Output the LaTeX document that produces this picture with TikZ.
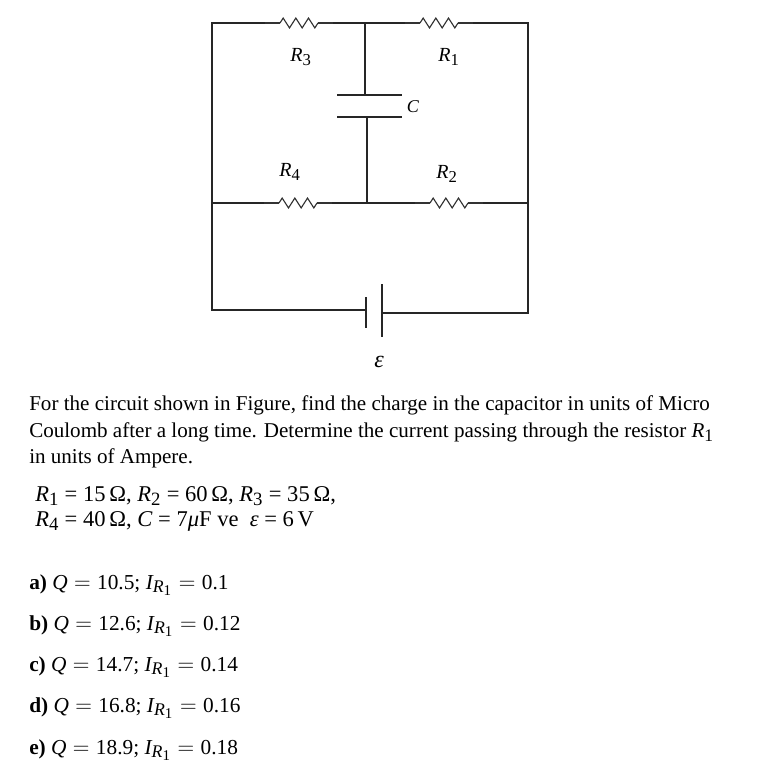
\documentclass[tikz,border=0pt]{standalone}
\usepackage{amsmath,amssymb}
\usepackage{fontspec}
\setmainfont{Liberation Serif}
\usepackage[italic]{mathastext}
\usepackage{tikz}
\usetikzlibrary{decorations.pathmorphing}

\newcommand{\rsym}[1]{$R_{\text{#1}}$}
\newcommand{\valeq}[2]{$#1=\text{#2}$}

\begin{document}
\begin{tikzpicture}[
    x=0.75pt, y=-0.75pt,
    wire/.style={line width=1.45pt, draw=black!85},
    plate/.style={line width=1.45pt, draw=black!85},
    resistor/.style={line width=0.85pt, draw=black!80, decoration={zigzag, segment length=9.5pt, amplitude=3.7pt}},
    label/.style={font=\fontsize{15}{18}\selectfont, inner sep=0pt},
    para/.style={font=\fontsize{15.8}{19}\selectfont, anchor=base west, inner sep=0pt},
    vals/.style={font=\fontsize{16.9}{20}\selectfont, anchor=base west, inner sep=0pt},
    answer/.style={font=\fontsize{16}{19}\selectfont, anchor=base west, inner sep=0pt}
]
\useasboundingbox (0,0) rectangle (757,767);
\fill[white] (0,0) rectangle (757,767);

% Corners and junctions
\coordinate (tl) at (212,23);
\coordinate (tr) at (528,23);
\coordinate (tj) at (365,23);
\coordinate (ml) at (212,203);
\coordinate (mr) at (528,203);
\coordinate (mj) at (367,203);
\coordinate (bl) at (212,310);
\coordinate (br) at (528,313);

% Capacitor
\coordinate (capa) at (365,95);
\coordinate (capb) at (367,117);
\coordinate (capal) at (337,95);
\coordinate (capar) at (402,95);
\coordinate (capbl) at (337,117);
\coordinate (capbr) at (402,117);

% Battery
\coordinate (bata) at (366,310);
\coordinate (batb) at (382,313);
\coordinate (bataup) at (366,297);
\coordinate (batadn) at (366,328);
\coordinate (batbup) at (382,284);
\coordinate (batbdn) at (382,337);

% Resistor ends
\coordinate (r3a) at (280,23);  \coordinate (r3b) at (318,23);
\coordinate (r1a) at (420,23);  \coordinate (r1b) at (458,23);
\coordinate (r4a) at (279,203); \coordinate (r4b) at (317,203);
\coordinate (r2a) at (430,203); \coordinate (r2b) at (468,203);

% Wires
\draw[wire] (r3a) ++(-15,0) -- (tl) -- (ml) -- (bl) -- (bata);
\draw[wire] (r3b) ++(15,0) -- (tj) -- ++(45,0);
\draw[wire] (r1b) ++(15,0) -- (tr) -- (mr) -- (br) -- (batb);
\draw[wire] (ml) -- ++(53,0);
\draw[wire] (r4b) ++(3,0) -- (mj) -- ++(49,0);
\draw[wire] (r2b) ++(10,0) -- (mr);
\draw[wire] (tj) -- (capa);
\draw[wire] (capb) -- (mj);

% Plates
\draw[plate] (capal) -- (capar);
\draw[plate] (capbl) -- (capbr);
\draw[plate] (bataup) -- (batadn);
\draw[plate] (batbup) -- (batbdn);

% Resistors
\foreach \ra/\rb in {r3a/r3b, r1a/r1b, r4a/r4b, r2a/r2b} {
    \draw[resistor] (\ra) ++(-15,0) -- (\ra);
    \draw[resistor] (\rb) -- ++(15,0);
    \draw[resistor, decorate] (\ra) -- (\rb);
}

% Circuit labels
\node[label] (lr3) at (301,57) {\rsym{3}};
\node[label] (lr1) at (449,57) {\rsym{1}};
\node[label] (lr4) at (290,172) {\rsym{4}};
\node[label] (lr2) at (447,174) {\rsym{2}};
\node[label] (lc) at (413,107) {\fontsize{13.5}{16}\selectfont\textit{C}};
\node[label] (le) at (379,362) {\fontsize{18}{20}\selectfont\textit{ε}};

% Question
\node[para] (line1) at (29,410) {For the circuit shown in Figure, find the charge in the capacitor in units of Micro};
\node[para] (line2) at (29,437) {Coulomb after a long time. Determine the current passing through the resistor \rsym{1}};
\node[para] (line3) at (29,463) {in units of Ampere.};
\node[vals] (vals1) at (35,501) {\rsym{1} = 15\,Ω, \rsym{2} = 60\,Ω, \rsym{3} = 35\,Ω,};
\node[vals] (vals2) at (35,526) {\rsym{4} = 40\,Ω, \textit{C} = 7\textit{μ}F ve\ \ \textit{ε} = 6\,V};

% Answers
\foreach \nm/\ypos/\qval/\ival in {a/589/10.5/0.1, b/630/12.6/0.12, c/671/14.7/0.14, d/712/16.8/0.16, e/754/18.9/0.18} {
    \node[answer] (ans\nm) at (29,\ypos) {\textbf{\nm)} \valeq{Q}{\qval}; \valeq{I_{R_{\text{1}}}}{\ival}};
}
\end{tikzpicture}
\end{document}
